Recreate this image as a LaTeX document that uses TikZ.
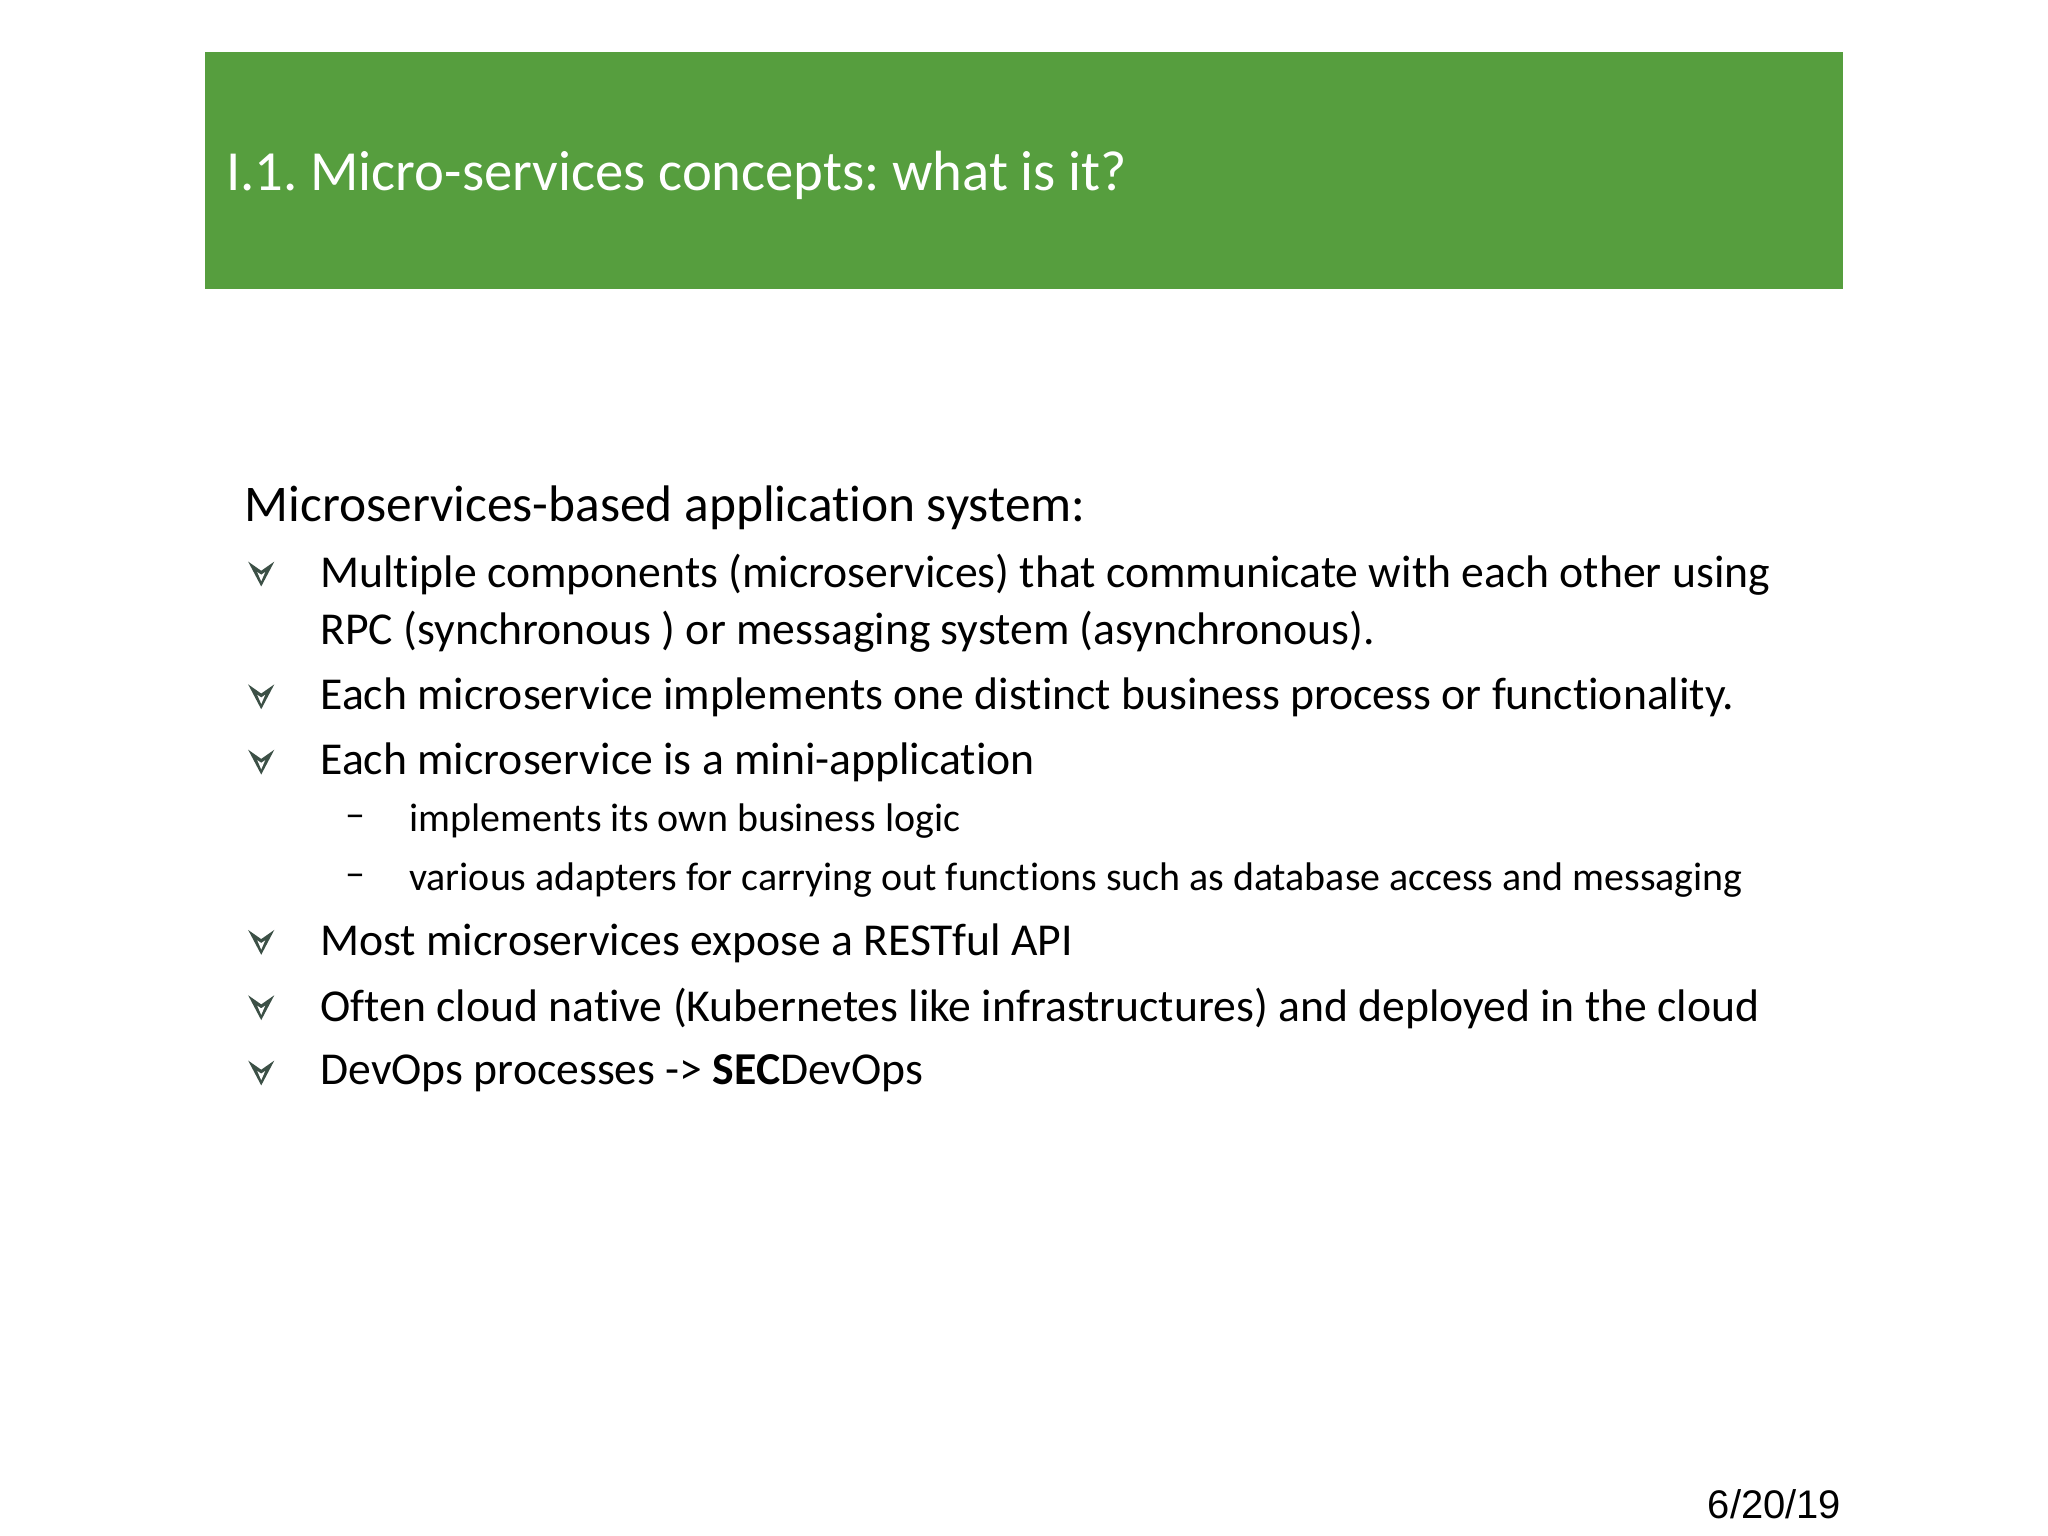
\documentclass[tikz,border=0pt]{standalone}
\usepackage{fontspec}
\setmainfont[Ligatures=NoCommon]{Carlito}
\newfontfamily\datefont{Liberation Sans}
\definecolor{bargreen}{RGB}{86,158,62}
\definecolor{bulletc}{RGB}{60,80,70}
\begin{document}
\begin{tikzpicture}[x=0.02cm,y=-0.02cm,
  body/.style={anchor=west,inner sep=0pt,font=\fontsize{19.9}{22}\selectfont},
  sub/.style={anchor=west,inner sep=0pt,font=\fontsize{17.4}{20}\selectfont},
  bul/.pic={\fill[bulletc] (-10,-10) -- (0,9) -- (10,-10) -- (0,-3) -- cycle; \fill[white] (-3,-2) -- (0,5) -- (3,-2) -- (0,0)--cycle;}]
\useasboundingbox (0,0) rectangle (1568,1176);
\fill[white] (0,0) rectangle (1568,1176);
\fill[bargreen] (157,40) rectangle (1411,221);
\node[anchor=west,inner sep=0pt,text=white,font=\fontsize{24.7}{28}\selectfont] (title) at (173,134) {I.1.\kern-2pt{} Micro-services concepts:\kern-2pt{} what is it?};
\node[body,font=\fontsize{22.4}{25}\selectfont] (h) at (187,389) {Microservices-based application system:};
\foreach \y/\n in {440/b1,534/b2,584/b3,722/b4,772/b5,822/b6} \pic at (200,\y) {bul};
\node[body] (t1) at (245,440) {Multiple components (microservices) that communicate with each other using};
\node[body] (t1b) at (245,484) {RPC (synchronous ) or messaging system (asynchronous).};
\node[body] (t2) at (245,534) {Each microservice implements one distinct business process or functionality.};
\node[body] (t3) at (245,584) {Each microservice is a mini-application};
\node[sub] (d1) at (264,629) {--};
\node[sub] (s1) at (313,629) {implements its own business logic};
\node[sub] (d2) at (264,674) {--};
\node[sub] (s2) at (313,674) {various adapters for carrying out functions such as database access and messaging};
\node[body] (t4) at (245,722) {Most microservices expose a RESTful API};
\node[body] (t5) at (245,772) {Often cloud native (Kubernetes like infrastructures) and deployed in the cloud};
\node[body] (t6) at (245,822) {DevOps processes -> \textbf{SEC}DevOps};
\node[anchor=east,inner sep=0pt,font=\datefont\fontsize{17.4}{20}\selectfont] (date) at (1410,1152) {6/20/19};
\end{tikzpicture}
\end{document}
